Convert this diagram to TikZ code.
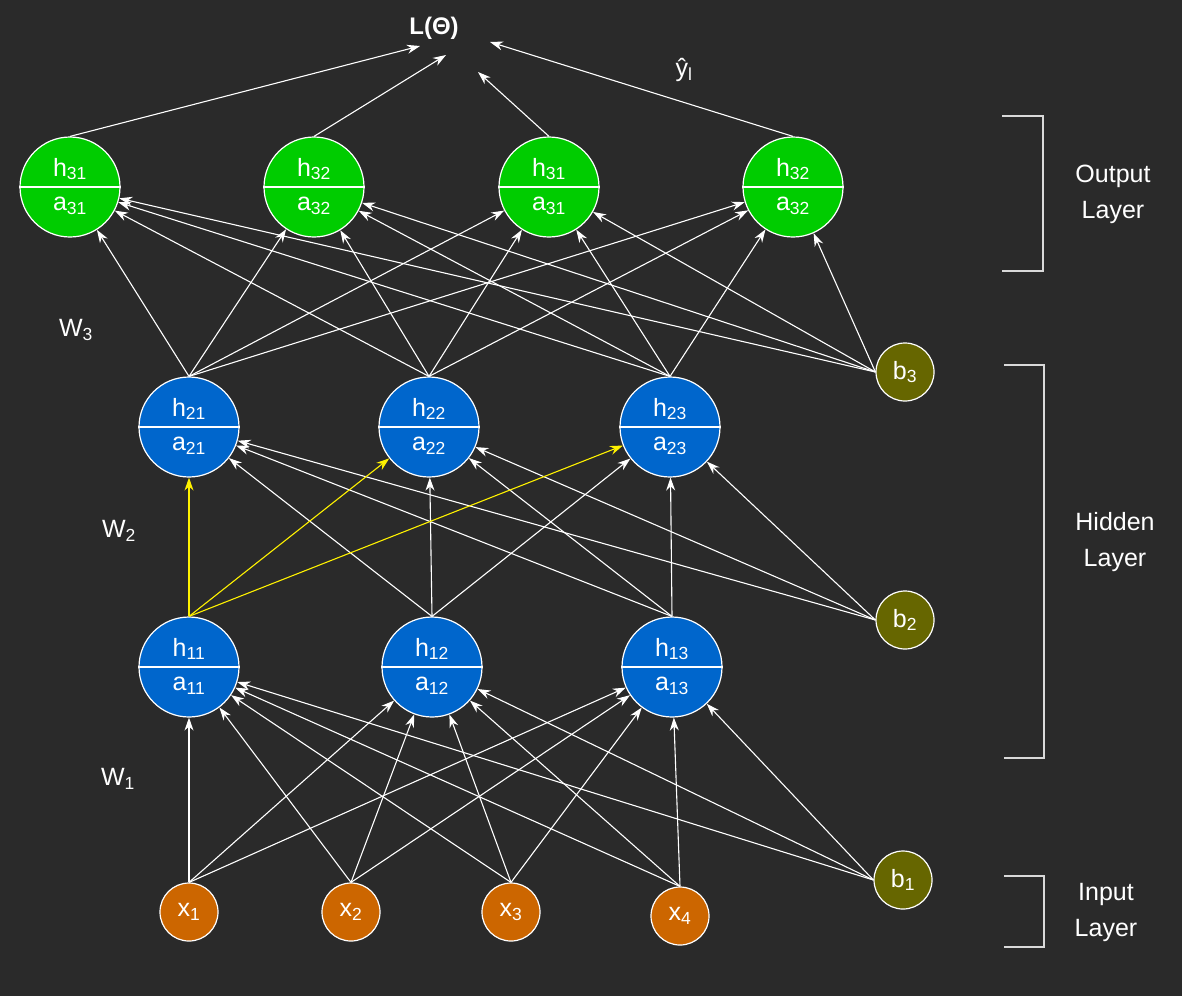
\documentclass[tikz,border=0pt]{standalone}
\usepackage{fontspec}
\setmainfont{Liberation Sans}
\usetikzlibrary{arrows.meta}
\definecolor{bg}{HTML}{2A2A2A}
\definecolor{gn}{HTML}{00CC00}
\definecolor{bl}{HTML}{0066CC}
\definecolor{og}{HTML}{CC6600}
\definecolor{ol}{HTML}{666600}
\begin{document}
\begin{tikzpicture}[x=1pt,y=-1pt,
  every node/.style={text=white,font=\fontsize{25}{29}\selectfont},
  neu/.style={circle,draw=white,line width=1.2pt,minimum size=100pt,inner sep=0pt},
  sm/.style={circle,draw=white,line width=1.2pt,minimum size=58pt,inner sep=0pt},
  ar/.style={draw=white,line width=1.1pt,-{Stealth[length=13pt,width=9pt]}},
  ya/.style={draw=yellow,line width=1.1pt,-{Stealth[length=13pt,width=9pt]}},
  br/.style={draw=white!85!black,line width=1.3pt},
  lab/.style={align=center,font=\fontsize{25}{36}\selectfont}]
\fill[bg] (0,0) rectangle (1182,996);
\useasboundingbox (0,0) rectangle (1182,996);
\newcommand{\neuron}[5]{%
  \node[neu,fill=#4] (#1) at (#2,#3) {};
  \draw[white,line width=1.2pt] (#1.west) -- (#1.east);
  \node at ([yshift=18pt]#1.center) {h\textsubscript{#5}};
  \node at ([yshift=-19pt]#1.center) {a\textsubscript{#5}};}
\neuron{o1}{70}{187}{gn}{31}
\neuron{o2}{314}{187}{gn}{32}
\neuron{o3}{549}{187}{gn}{31}
\neuron{o4}{793}{187}{gn}{32}
\neuron{h21}{189}{427}{bl}{21}
\neuron{h22}{429}{427}{bl}{22}
\neuron{h23}{670}{427}{bl}{23}
\neuron{h11}{189}{667}{bl}{11}
\neuron{h12}{432}{667}{bl}{12}
\neuron{h13}{672}{667}{bl}{13}
\node[sm,fill=og] (x1) at (189,912) {x\textsubscript{1}};
\node[sm,fill=og] (x2) at (351,912) {x\textsubscript{2}};
\node[sm,fill=og] (x3) at (511,912) {x\textsubscript{3}};
\node[sm,fill=og] (x4) at (680,916) {x\textsubscript{4}};
\node[sm,fill=ol] (b3) at (905,372) {b\textsubscript{3}};
\node[sm,fill=ol] (b2) at (905,620) {b\textsubscript{2}};
\node[sm,fill=ol] (b1) at (903,880) {b\textsubscript{1}};
\node[font=\bfseries\fontsize{24}{28}\selectfont] (L) at (434,28) {L(Θ)};
\node (y) at (684,70) {ŷ\textsubscript{l}};
\node (w3) at (76,330) {W\textsubscript{3}};
\node (w2) at (119,531) {W\textsubscript{2}};
\node (w1) at (118,779) {W\textsubscript{1}};
\coordinate (L1) at (420,46);
\coordinate (L2) at (446,55);
\coordinate (L3) at (478,72);
\coordinate (L4) at (490,42);
% input to hidden 1
\foreach \s in {x1,x2,x3,x4}{\foreach \t in {h11,h12,h13}{\draw[ar] (\s.north) -- (\t);}}
\foreach \t in {h11,h12,h13}{\draw[ar] (b1.west) -- (\t);}
% hidden1 to hidden2
\foreach \s in {h12,h13}{\foreach \t in {h21,h22,h23}{\draw[ar] (\s.north) -- (\t);}}
\foreach \t in {h21,h22,h23}{\draw[ar] (b2.west) -- (\t);}
\foreach \t in {h21,h22,h23}{\draw[ya] (h11.north) -- (\t);}
% hidden2 to output
\foreach \s in {h21,h22,h23}{\foreach \t in {o1,o2,o3,o4}{\draw[ar] (\s.north) -- (\t);}}
\foreach \t in {o1,o2,o3,o4}{\draw[ar] (b3.west) -- (\t);}
% output to loss
\draw[ar] (o1.north) -- (L1);
\draw[ar] (o2.north) -- (L2);
\draw[ar] (o3.north) -- (L3);
\draw[ar] (o4.north) -- (L4);
% brackets
\draw[br] (1002,116) -- (1043,116) -- (1043,271) -- (1002,271);
\draw[br] (1004,365) -- (1044,365) -- (1044,758) -- (1004,758);
\draw[br] (1004,876) -- (1044,876) -- (1044,947) -- (1004,947);
\node[lab] (ol) at (1113,194) {Output\\Layer};
\node[lab] (hl) at (1115,542) {Hidden\\Layer};
\node[lab] (il) at (1106,912) {Input\\Layer};
\end{tikzpicture}
\end{document}
